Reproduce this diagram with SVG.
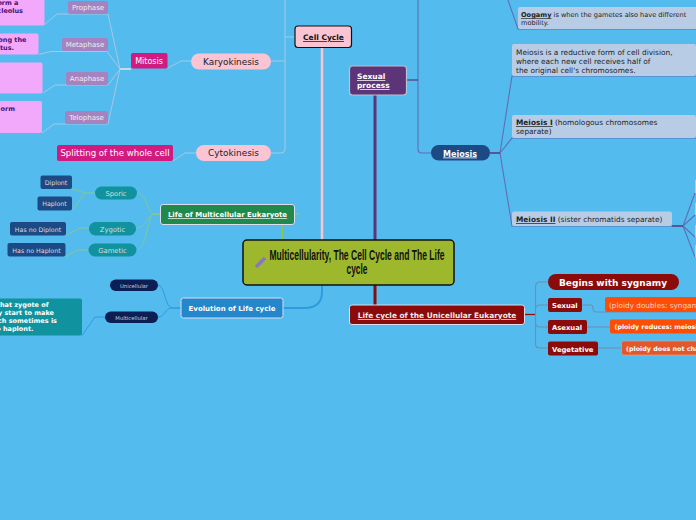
<svg xmlns="http://www.w3.org/2000/svg" width="696" height="520" viewBox="0 0 696 520">
<style>
text{font-family:"DejaVu Sans",sans-serif}
.u{text-decoration:underline;font-weight:700}
.b{font-weight:700}
.m{text-anchor:middle}
.t{font-family:"Liberation Sans",sans-serif;font-size:15px;font-weight:700;fill:#111}
.pn{fill:#f2a9fc}
.pt{font-size:6.500px;font-weight:700;fill:#4a1070}
.ph{fill:#a583c0}
.pl{font-size:7px;fill:#eee}
.teal{fill:#10939e}
.tl{font-size:6.800px;fill:#ddd}
.navy{fill:#1c4a85}
.nl{font-size:6.300px;fill:#ddd}
.dk{fill:#0b1f54}
.dl{font-size:5.300px;fill:#ccd}
.red{fill:#8b0a0a}
.rl{font-size:6.800px;font-weight:700;fill:#fff}
.bl{fill:#b8cce6}
.bt{font-size:7.400px;fill:#222}
.wt{font-size:6.500px;font-weight:700;fill:#fff}
</style>
<rect width="696" height="520" fill="#53bbee"/>
<g id="connectors" fill="none">
<path d="M322 48V240" stroke="#fbc4d2" stroke-width="2.500"/>
<path d="M375 95V240" stroke="#5e3478" stroke-width="3"/>
<path d="M282 225V240" stroke="#8dc63f" stroke-width="2"/>
<path d="M375 285V305" stroke="#8b0a0a" stroke-width="3"/>
<path d="M322 285V292Q322 308 304 308H283" stroke="#2f9ade" stroke-width="2"/>
<g stroke="#a6c8e4" stroke-width="1">
<path d="M295 37H285V-5M285 37V149Q285 153 281 153H271M285 61H271"/>
<path d="M191 61H181L168 68"/>
<path d="M120 69L108 14H57L44 25M120 69L107 51.500H51L38.500 54.500M120 69L108 85H55L43 93M120 69L108 124H54L42 133"/>
<path d="M196 153H185L173 161"/>
<path d="M120 69H131" stroke="#c5dcec" stroke-width="2"/>
</g>
<g stroke="#5f6fb4" stroke-width="1.100">
<path d="M418 80V-5M418 80V149Q418 153 422 153H431"/>
<path d="M500 153L512 76H696M500 153L512 138H696M500 153L512 226H672M508 0L518 29H696"/>
<path d="M683 226L695 193M683 226L695 215M683 226L695 237M683 226L695 257"/>
</g>
<path d="M407 80H418" stroke="#5e3478" stroke-width="1.200"/>
<path d="M490 153H500M672 226H683" stroke="#5e3478" stroke-width="1.500"/>
<path d="M525 314.500H535" stroke="#8b0a0a" stroke-width="1.200"/>
<g stroke="#6e8fb0" stroke-width="1.100">
<path d="M535.500 314.500V287Q535.500 282 540.500 282H548M535.500 314.500V309Q535.500 305 540 305H548M535.500 314.500V323Q535.500 327 540 327H548M535.500 314.500V344Q535.500 348 540 348H548"/>
<path d="M582 305H590Q593 305 593 308.500Q593 312 597 312H696M587 327H610M598 348H622"/>
</g>
<g stroke="#86c98a" stroke-width="1">
<path d="M160 214H155C147 214 147 193 137 193M160 214H155C147 214 147 228 136 228M160 214H155C147 214 147 250 136.500 250"/>
<path d="M95 193H85L72 189M85 193L72 210.500M89 228H80L66 235.500M88.500 250H78L65.500 256.500"/>
<path d="M294 214H299" stroke-width="1.500"/>
</g>
<g stroke="#2f9ade" stroke-width="1">
<path d="M181 308H172C165 308 165 285 158 285M181 308H172C165 308 165 317 158 317"/>
<path d="M105 317H95L82 335.500"/>
</g>
</g>
<g id="root"><rect x="243" y="240" width="211" height="45" rx="4" fill="#9db82d" stroke="#111" stroke-width="1.500"/>
<path d="M256 267L265 258" stroke="#8a78b8" stroke-width="3.500"/>
<text x="357" y="259.500" class="m t" textLength="175" lengthAdjust="spacingAndGlyphs">Multicellularity, The Cell Cycle and The Life</text>
<text x="357" y="274" class="m t" textLength="21" lengthAdjust="spacingAndGlyphs">cycle</text></g>
<g id="cell-cycle"><rect x="295" y="26" width="56.500" height="21.500" rx="3" fill="#fbc4d2" stroke="#111" stroke-width="1.200"/><text x="323.500" y="40" class="m u" font-size="7.500" fill="#111">Cell Cycle</text></g>
<g id="sexual-process"><rect x="349.500" y="66" width="57" height="29" rx="3" fill="#5e3478" stroke="#b5c3d6" stroke-width="1.200"/><text x="357" y="79" class="u" font-size="7.500" fill="#fff">Sexual </text><text x="357" y="88" class="u" font-size="7.500" fill="#fff">process</text></g>
<g id="karyokinesis"><rect x="191" y="53.500" width="80" height="16" rx="8" fill="#fbc4d2"/><text x="231" y="65" class="m" font-size="8.900" fill="#222">Karyokinesis</text></g>
<g id="cytokinesis"><rect x="196" y="145" width="75" height="16" rx="8" fill="#fbc4d2"/><text x="233.500" y="156" class="m" font-size="8.900" fill="#222">Cytokinesis</text></g>
<g id="mitosis"><rect x="131" y="53" width="36.500" height="15.500" rx="2" fill="#d21b80"/><text x="149" y="64" class="m" font-size="8" fill="#fff">Mitosis</text></g>
<g id="splitting"><rect x="57" y="145" width="116" height="16" rx="2" fill="#d21b80"/><text x="115" y="156" class="m" font-size="8.600" fill="#fff">Splitting of the whole cell</text></g>
<g id="prophase"><rect x="68" y="1" width="40" height="13" rx="2" class="ph"/><text x="88" y="10" class="m pl">Prophase</text></g>
<g id="metaphase"><rect x="62" y="38" width="46" height="13" rx="2" class="ph"/><text x="85" y="47" class="m pl">Metaphase</text></g>
<g id="anaphase"><rect x="66" y="72" width="42" height="13" rx="2" class="ph"/><text x="87" y="81" class="m pl">Anaphase</text></g>
<g id="telophase"><rect x="65" y="111" width="43" height="13" rx="2" class="ph"/><text x="86.500" y="120" class="m pl">Telophase</text></g>
<g id="prophase-note"><rect x="-10" y="-10" width="54.500" height="35.500" rx="2" class="pn"/><text x="18.500" y="5" text-anchor="end" class="pt">orm a</text><text x="23" y="13" text-anchor="end" class="pt">cleolus</text></g>
<g id="metaphase-note"><rect x="-10" y="33.500" width="48.500" height="21" rx="2" class="pn"/><text x="26.500" y="42" text-anchor="end" class="pt">ong the</text><text x="14" y="50" text-anchor="end" class="pt">tus.</text></g>
<g id="anaphase-note"><rect x="-10" y="62.500" width="52.500" height="31" rx="2" class="pn"/></g>
<g id="telophase-note"><rect x="-10" y="101" width="52" height="32" rx="2" class="pn"/><text x="15" y="111" text-anchor="end" class="pt">orm</text></g>
<g id="life-multi"><rect x="160.500" y="204.500" width="134" height="20" rx="2.500" fill="#1f8a4c" stroke="#dde" stroke-width="1"/><text x="227.500" y="217" class="m u" font-size="7" fill="#fff">Life of Multicellular Eukaryote</text></g>
<g id="sporic"><rect x="95" y="186.500" width="42" height="13" rx="6.500" class="teal"/><text x="116" y="195.500" class="m tl">Sporic</text></g>
<g id="zygotic"><rect x="89" y="222" width="47" height="13.500" rx="6.500" class="teal"/><text x="112.500" y="231.500" class="m tl">Zygotic</text></g>
<g id="gametic"><rect x="88.500" y="243.500" width="48" height="13" rx="6.500" class="teal"/><text x="112.500" y="252.500" class="m tl">Gametic</text></g>
<g id="diplont"><rect x="40.500" y="175.500" width="31.500" height="13.500" rx="2" class="navy"/><text x="56" y="184.500" class="m nl">Diplont</text></g>
<g id="haplont"><rect x="37.500" y="196.500" width="34.500" height="14" rx="2" class="navy"/><text x="54.500" y="206" class="m nl">Haplont</text></g>
<g id="no-diplont"><rect x="10" y="222" width="56" height="13.500" rx="2" class="navy"/><text x="38" y="231.500" class="m nl">Has no Diplont</text></g>
<g id="no-haplont"><rect x="7.500" y="243" width="58" height="13.500" rx="2" class="navy"/><text x="36.500" y="252.500" class="m nl">Has no Haplont</text></g>
<g id="evolution"><rect x="181" y="298" width="102" height="20" rx="2.500" fill="#2487cb" stroke="#dde" stroke-width="1"/><text x="232" y="310.500" class="m b" font-size="7" fill="#fff">Evolution of Life cycle</text></g>
<g id="unicellular"><rect x="110" y="279.500" width="48" height="11.500" rx="5.700" class="dk"/><text x="134" y="287.500" class="m dl">Unicellular</text></g>
<g id="multicellular"><rect x="105" y="311.500" width="53" height="11.500" rx="5.700" class="dk"/><text x="131.500" y="319.500" class="m dl">Multicellular</text></g>
<g id="multi-note"><rect x="-10" y="298.500" width="92" height="37" rx="2" class="teal"/><text x="48.500" y="307" text-anchor="end" class="wt">that zygote of</text><text x="54" y="315" text-anchor="end" class="wt">y start to make</text><text x="57" y="323" text-anchor="end" class="wt">ch sometimes is</text><text x="33.500" y="331" text-anchor="end" class="wt">o haplont.</text></g>
<g id="life-uni"><rect x="349.500" y="305" width="175" height="19.500" rx="2.500" class="red" stroke="#dde" stroke-width="1"/><text x="437" y="318" class="m u" font-size="7.400" fill="#eee">Life cycle of the Unicellular Eukaryote</text></g>
<g id="sygnamy"><rect x="548" y="274" width="131" height="16" rx="8" class="red"/><text x="613" y="286" class="m b" font-size="9" fill="#fff">Begins with sygnamy</text></g>
<g id="sexual"><rect x="548" y="298" width="34" height="14" rx="2" class="red"/><text x="552" y="308" class="rl">Sexual</text></g>
<g id="asexual"><rect x="548" y="320" width="39" height="14" rx="2" class="red"/><text x="552" y="330" class="rl">Asexual</text></g>
<g id="vegetative"><rect x="548" y="341.500" width="50" height="14" rx="2" class="red"/><text x="552" y="351.500" class="rl">Vegetative</text></g>
<g id="sexual-note"><rect x="605" y="297" width="100" height="15" rx="2" fill="#ff4d06"/><text x="609" y="308" font-size="7.300" fill="#f2d5c8">(ploidy doubles: syngamy)</text></g>
<g id="asexual-note"><rect x="610" y="319.500" width="95" height="14" rx="2" fill="#ff4d06"/><text x="614.500" y="329" class="b" font-size="6.300" fill="#fff">(ploidy reduces: meiosis)</text></g>
<g id="vegetative-note"><rect x="621.500" y="341" width="85" height="14" rx="2" fill="#e2582a" stroke="#f2a58a" stroke-width=".6"/><text x="626" y="351" class="b" font-size="6.400" fill="#fff">(ploidy does not change)</text></g>
<g id="meiosis"><rect x="431" y="145" width="59" height="15.500" rx="7.700" class="navy"/><text x="460" y="156.500" class="m u" font-size="8" fill="#fff">Meiosis</text></g>
<g id="oogamy"><rect x="518" y="7" width="189" height="22" rx="2" class="bl"/><text x="521" y="17" font-size="6.600" fill="#222"><tspan class="u">Oogamy</tspan> is when the gametes also have different</text><text x="521" y="25" font-size="6.600" fill="#222">mobility.</text></g>
<g id="meiosis-def"><rect x="512" y="44" width="184" height="32" rx="2" class="bl"/><text x="516" y="54.500" class="bt">Meiosis is a reductive form of cell division,</text><text x="516" y="63.500" class="bt">where each new cell receives half of</text><text x="516" y="72.500" class="bt">the original cell's chromosomes.</text></g>
<g id="meiosis-1"><rect x="512" y="115" width="184" height="23" rx="2" class="bl"/><text x="516" y="125" class="bt"><tspan class="u">Meiosis I</tspan> (homologous chromosomes</text><text x="516" y="134" class="bt">separate)</text></g>
<g id="meiosis-2"><rect x="512" y="211.500" width="160" height="14.500" rx="2" class="bl"/><text x="516" y="222" class="bt"><tspan class="u">Meiosis II</tspan> (sister chromatids separate)</text></g>
<g id="meiosis-2-a"><rect x="695" y="180" width="5" height="13" class="pn"/></g>
<g id="meiosis-2-b"><rect x="695" y="203" width="5" height="12" class="pn"/></g>
<g id="meiosis-2-c"><rect x="695" y="225" width="5" height="12" class="pn"/></g>
<g id="meiosis-2-d"><rect x="695" y="245" width="5" height="12" class="pn"/></g>
</svg>
